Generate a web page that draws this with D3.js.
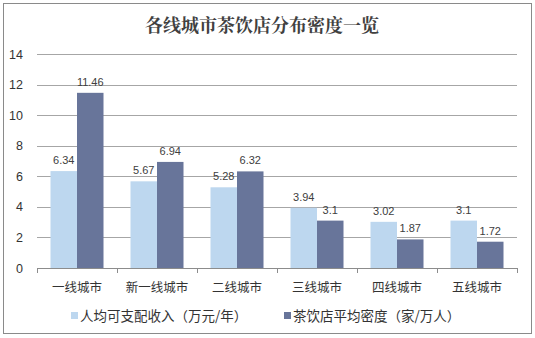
<!DOCTYPE html>
<html><head><meta charset="utf-8">
<script src="https://cdn.jsdelivr.net/npm/d3@7"></script>
<style>body{margin:0;background:#fff}svg{display:block}</style>
</head><body>
<script>
const categories = ["一线城市","新一线城市","二线城市","三线城市","四线城市","五线城市"];
const income = [6.34,5.67,5.28,3.94,3.02,3.1];
const density = [11.46,6.94,6.32,3.1,1.87,1.72];
const seriesNames = ["人均可支配收入（万元/年）","茶饮店平均密度（家/万人）"];
const yTicks = [0,2,4,6,8,10,12,14];
const colors = ["#bdd7ef","#68759a"];

const W=535,H=338;
const svg=d3.select("body").append("svg").attr("width",W).attr("height",H);
const font="'Noto Sans CJK SC', 'Liberation Sans', sans-serif";
svg.append("rect").attr("x",3.5).attr("y",3.5).attr("width",528).attr("height",330)
  .attr("fill","#fff").attr("stroke","#8a8a8a").attr("stroke-width",1);
svg.append("text").attr("x",262).attr("y",32).attr("text-anchor","middle")
  .attr("font-family","'Noto Serif CJK SC', 'Noto Sans CJK SC', serif").attr("font-weight","bold")
  .attr("font-size",18).attr("fill","#404040").text("各线城市茶饮店分布密度一览");

const x=d3.scaleBand().domain(categories).range([37,517]).paddingInner(0).paddingOuter(0);
const y=d3.scaleLinear().domain([0,14]).range([268,54]);
const xs=d3.scaleBand().domain([0,1]).range([0,53]);

const g=svg.append("g");
g.selectAll("line.grid").data(yTicks.filter(d=>d>0)).join("line")
  .attr("x1",37).attr("x2",517).attr("y1",d=>Math.round(y(d))+0.5).attr("y2",d=>Math.round(y(d))+0.5)
  .attr("stroke","#a6a6a6").attr("stroke-width",1);
g.selectAll("text.yt").data(yTicks).join("text")
  .attr("x",23).attr("y",d=>y(d)+4.5).attr("text-anchor","end")
  .attr("font-family","'Liberation Sans', Arial, sans-serif").attr("font-size",12.5).attr("fill","#333").text(d=>d);

const data=[income,density];
data.forEach((arr,si)=>{
  g.selectAll("rect.s"+si).data(arr).join("rect")
    .attr("x",(d,i)=>x(categories[i])+x.bandwidth()/2-26.5+xs(si))
    .attr("width",xs.bandwidth()).attr("y",d=>y(d)).attr("height",d=>y(0)-y(d))
    .attr("fill",colors[si]);
  g.selectAll("text.v"+si).data(arr).join("text")
    .attr("x",(d,i)=>x(categories[i])+x.bandwidth()/2-26.5+xs(si)+xs.bandwidth()/2)
    .attr("y",d=>y(d)-7).attr("text-anchor","middle")
    .attr("font-family","'Liberation Sans', Arial, sans-serif").attr("font-size",11).attr("fill","#404040").text(d=>d);
});

// x axis
svg.append("line").attr("x1",37).attr("x2",517).attr("y1",268.5).attr("y2",268.5).attr("stroke","#8c8c8c");
svg.selectAll("line.tk").data(d3.range(categories.length+1)).join("line")
  .attr("x1",i=>37+i*x.bandwidth()+0.5).attr("x2",i=>37+i*x.bandwidth()+0.5)
  .attr("y1",268).attr("y2",273).attr("stroke","#8c8c8c");
svg.selectAll("text.cat").data(categories).join("text")
  .attr("x",d=>x(d)+x.bandwidth()/2).attr("y",292).attr("text-anchor","middle")
  .attr("font-family",font).attr("font-size",12.5).attr("fill","#333").text(d=>d);

// legend
const leg=[{x:71,name:seriesNames[0],c:colors[0]},{x:284,name:seriesNames[1],c:colors[1]}];
leg.forEach(l=>{
  svg.append("rect").attr("x",l.x).attr("y",312).attr("width",7).attr("height",7).attr("fill",l.c);
  svg.append("text").attr("x",l.x+9).attr("y",321).attr("font-family",font).attr("font-size",13.5)
    .attr("fill","#333").text(l.name);
});
</script>
</body></html>
